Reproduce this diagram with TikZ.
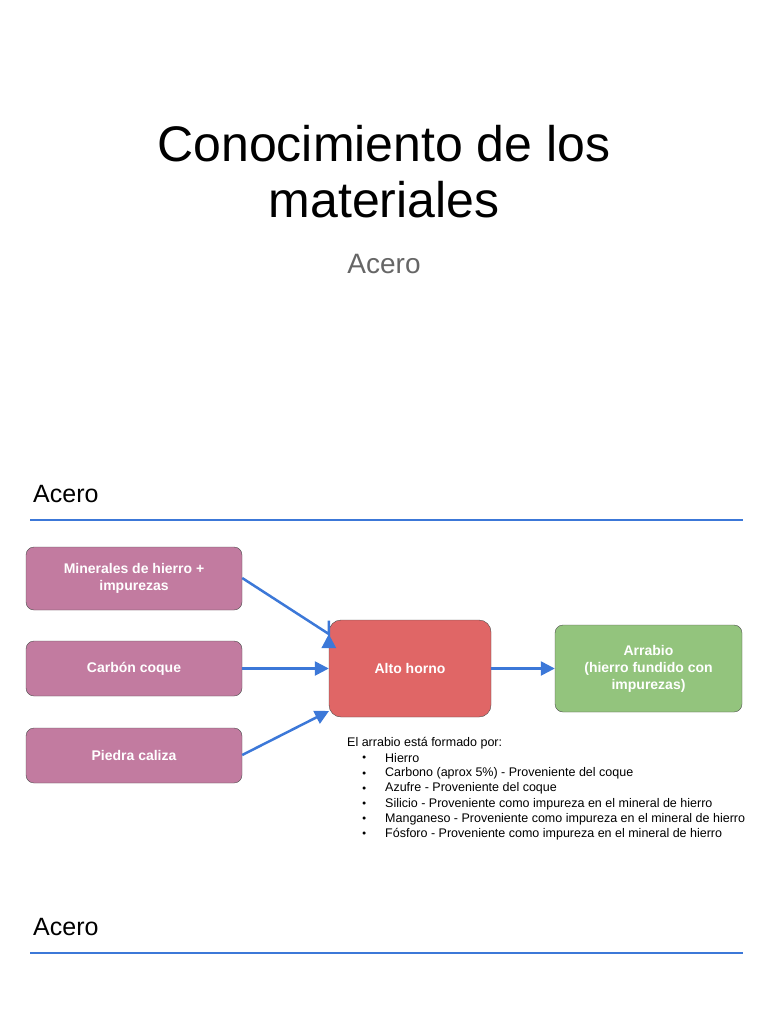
\documentclass[tikz,border=0pt]{standalone}
\usepackage{fontspec}
\setmainfont{Liberation Sans}
\usetikzlibrary{arrows.meta}
\definecolor{pinkb}{HTML}{C27BA0}
\definecolor{redb}{HTML}{E06666}
\definecolor{greenb}{HTML}{93C47D}
\definecolor{blueline}{HTML}{3C78D8}
\tikzset{
 box/.style={draw=black!70,rounded corners=8pt,text=white,font=\fontsize{14}{17}\selectfont\bfseries,align=center,inner sep=0pt},
 conn/.style={draw=blueline,line width=2.5pt,-{Triangle[length=14pt,width=14pt]}},
 rule/.style={draw=blueline,line width=2.5pt},
 li/.style={anchor=west,font=\fontsize{12.5}{14}\selectfont,inner sep=0pt}
}
\begin{document}
\begin{tikzpicture}[x=1pt,y=-1pt]
\useasboundingbox (0,0) rectangle (768,1024);
\node[font=\fontsize{50}{56}\selectfont,align=center] (title) at (384,172) {Conocimiento de los\\materiales};
\node[font=\fontsize{28}{32}\selectfont,text=black!60] (sub) at (384,264) {Acero};
\node[anchor=west,font=\fontsize{25}{30}\selectfont,inner sep=0pt] (h1) at (33,494) {Acero};
\coordinate (r1a) at (30,520); \coordinate (r1b) at (743,520);
\draw[rule] (r1a) -- (r1b);
\node[anchor=west,font=\fontsize{25}{30}\selectfont,inner sep=0pt] (h2) at (33,927) {Acero};
\coordinate (r2a) at (30,953); \coordinate (r2b) at (743,953);
\draw[rule] (r2a) -- (r2b);

\node[box,fill=pinkb,minimum width=216pt,minimum height=63pt] (min) at (134,578.5) {Minerales de hierro +\\impurezas};
\node[box,fill=pinkb,minimum width=216pt,minimum height=55pt] (car) at (134,668.5) {Carbón coque};
\node[box,fill=pinkb,minimum width=216pt,minimum height=55pt] (pie) at (134,755.5) {Piedra caliza};
\node[box,fill=redb,minimum width=162pt,minimum height=97pt,rounded corners=12pt] (alto) at (410,668.5) {Alto horno};
\node[box,fill=greenb,minimum width=187pt,minimum height=87pt] (arr) at (648.5,668.5) {Arrabio\\(hierro fundido con\\impurezas)};

\draw[conn] (min.east |- 0,578) -- (alto.north west |- 0,634) -- ++(0,0);
\draw[conn] (car) -- (alto);
\draw[conn] (pie.east |- 0,755) -- (329,711);
\draw[conn] (alto) -- (arr);

\node[li] (l0) at (347,743) {El arrabio está formado por:};
\foreach \t [count=\i] in {Hierro,Carbono (aprox 5\%) - Proveniente del coque,Azufre - Proveniente del coque,Silicio - Proveniente como impureza en el mineral de hierro,Manganeso - Proveniente como impureza en el mineral de hierro,Fósforo - Proveniente como impureza en el mineral de hierro}{
 \node[li] (b\i) at (362,743+\i*15.2) {\fontsize{7}{8}\selectfont●};
 \node[li] (t\i) at (385,743+\i*15.2) {\t};
}
\end{tikzpicture}
\end{document}
